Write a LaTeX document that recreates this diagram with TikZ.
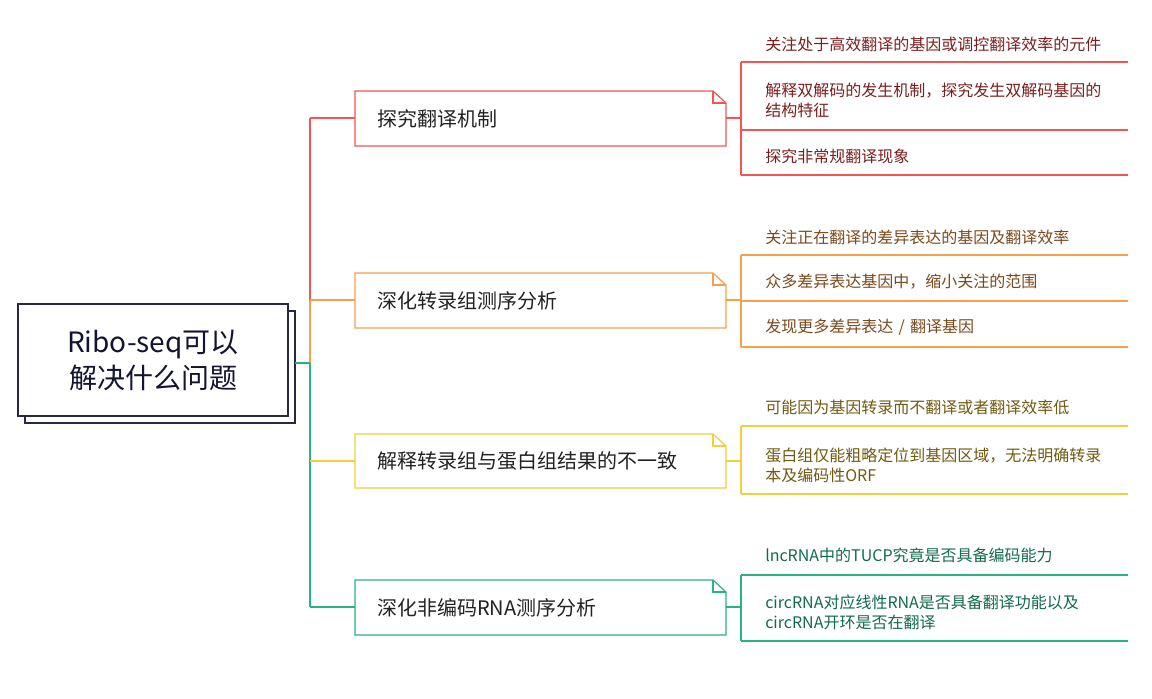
\documentclass[tikz,border=0pt]{standalone}
\usepackage{fontspec}
\setmainfont{Noto Sans CJK SC}
\begin{document}
\begin{tikzpicture}[x=0.75pt,y=-0.75pt,
  cr/.style={color={rgb,255:red,242;green,85;blue,85}},
  co/.style={color={rgb,255:red,245;green,160;blue,74}},
  cy/.style={color={rgb,255:red,240;green,208;blue,60}},
  cg/.style={color={rgb,255:red,40;green,178;blue,135}},
  leaf/.style={anchor=west,inner sep=0pt,font=\fontsize{12}{15}\selectfont,align=left,text width=270pt},
  btext/.style={anchor=west,inner sep=0pt,font=\fontsize{15}{18}\selectfont,text={rgb,255:red,34;green,34;blue,34}},
  ln/.style={line width=0.9pt}]
\useasboundingbox (0,0) rectangle (1152,699);
% root
\draw[line width=1pt,color={rgb,255:red,40;green,40;blue,70},fill=white] (25,311) rectangle (295,423);
\draw[line width=1pt,color={rgb,255:red,40;green,40;blue,70},fill=white] (18,304) rectangle (288,416);
\node[font=\fontsize{21}{27}\selectfont,align=center,text={rgb,255:red,20;green,20;blue,50}] (root) at (153,360) {Ribo-seq可以\\解决什么问题};
\coordinate (r) at (295,363);
\coordinate (t) at (310,363);
% trunk
\draw[ln,cr] (310,118) -- (310,300);
\draw[ln,co] (310,300) -- (310,363);
\draw[ln,cg] (310,363) -- (310,607);
\draw[ln,cg] (r) -- (t);
% branch boxes
\newcommand{\bbox}[4]{% style, ytop, ybottom, text
  \draw[ln,#1,fill=white] (355,#2) -- (713,#2) -- (726,#2+12) -- (726,#3) -- (355,#3) -- cycle;
  \draw[ln,#1] (713,#2) -- (713,#2+12) -- (726,#2+12);
  \node[btext] at (377,{(#2+#3)/2}) {#4};}
\bbox{cr}{91}{146}{探究翻译机制}
\bbox{co}{273}{328}{深化转录组测序分析}
\bbox{cy}{434}{488}{解释转录组与蛋白组结果的不一致}
\bbox{cg}{580}{635}{深化非编码RNA测序分析}
\draw[ln,cr] (310,118) -- (355,118);
\draw[ln,co] (310,300) -- (355,300);
\draw[ln,cy] (310,461) -- (355,461);
\draw[ln,cg] (310,607) -- (355,607);
% branch 1 leaves
\draw[ln,cr] (726,118) -- (741,118);
\draw[ln,cr] (741,62) -- (741,175);
\foreach \y in {62,130,175} \draw[ln,cr] (741,\y) -- (1128,\y);
\begin{scope}[text={rgb,255:red,122;green,30;blue,30}]
\node[leaf] (a1) at (765,44) {关注处于高效翻译的基因或调控翻译效率的元件};
\node[leaf] (a2) at (765,100) {解释双解码的发生机制，探究发生双解码基因的\\结构特征};
\node[leaf] (a3) at (765,156) {探究非常规翻译现象};
\end{scope}
% branch 2
\draw[ln,co] (726,300) -- (741,300);
\draw[ln,co] (741,255) -- (741,347);
\foreach \y in {255,301,347} \draw[ln,co] (741,\y) -- (1128,\y);
\begin{scope}[text={rgb,255:red,122;green,72;blue,26}]
\node[leaf] at (765,237) {关注正在翻译的差异表达的基因及翻译效率};
\node[leaf] at (765,282) {众多差异表达基因中，缩小关注的范围};
\node[leaf] at (765,327) {发现更多差异表达 / 翻译基因};
\end{scope}
% branch 3
\draw[ln,cy] (726,461) -- (741,461);
\draw[ln,cy] (741,426) -- (741,494);
\foreach \y in {426,494} \draw[ln,cy] (741,\y) -- (1128,\y);
\begin{scope}[text={rgb,255:red,110;green,90;blue,16}]
\node[leaf] at (765,407) {可能因为基因转录而不翻译或者翻译效率低};
\node[leaf] at (765,465) {蛋白组仅能粗略定位到基因区域，无法明确转录\\本及编码性ORF};
\end{scope}
% branch 4
\draw[ln,cg] (726,607) -- (741,607);
\draw[ln,cg] (741,575) -- (741,641);
\foreach \y in {575,641} \draw[ln,cg] (741,\y) -- (1128,\y);
\begin{scope}[text={rgb,255:red,16;green,107;blue,74}]
\node[leaf] at (765,555) {lncRNA中的TUCP究竟是否具备编码能力};
\node[leaf] at (765,612) {circRNA对应线性RNA是否具备翻译功能以及\\circRNA开环是否在翻译};
\end{scope}
\end{tikzpicture}
\end{document}
